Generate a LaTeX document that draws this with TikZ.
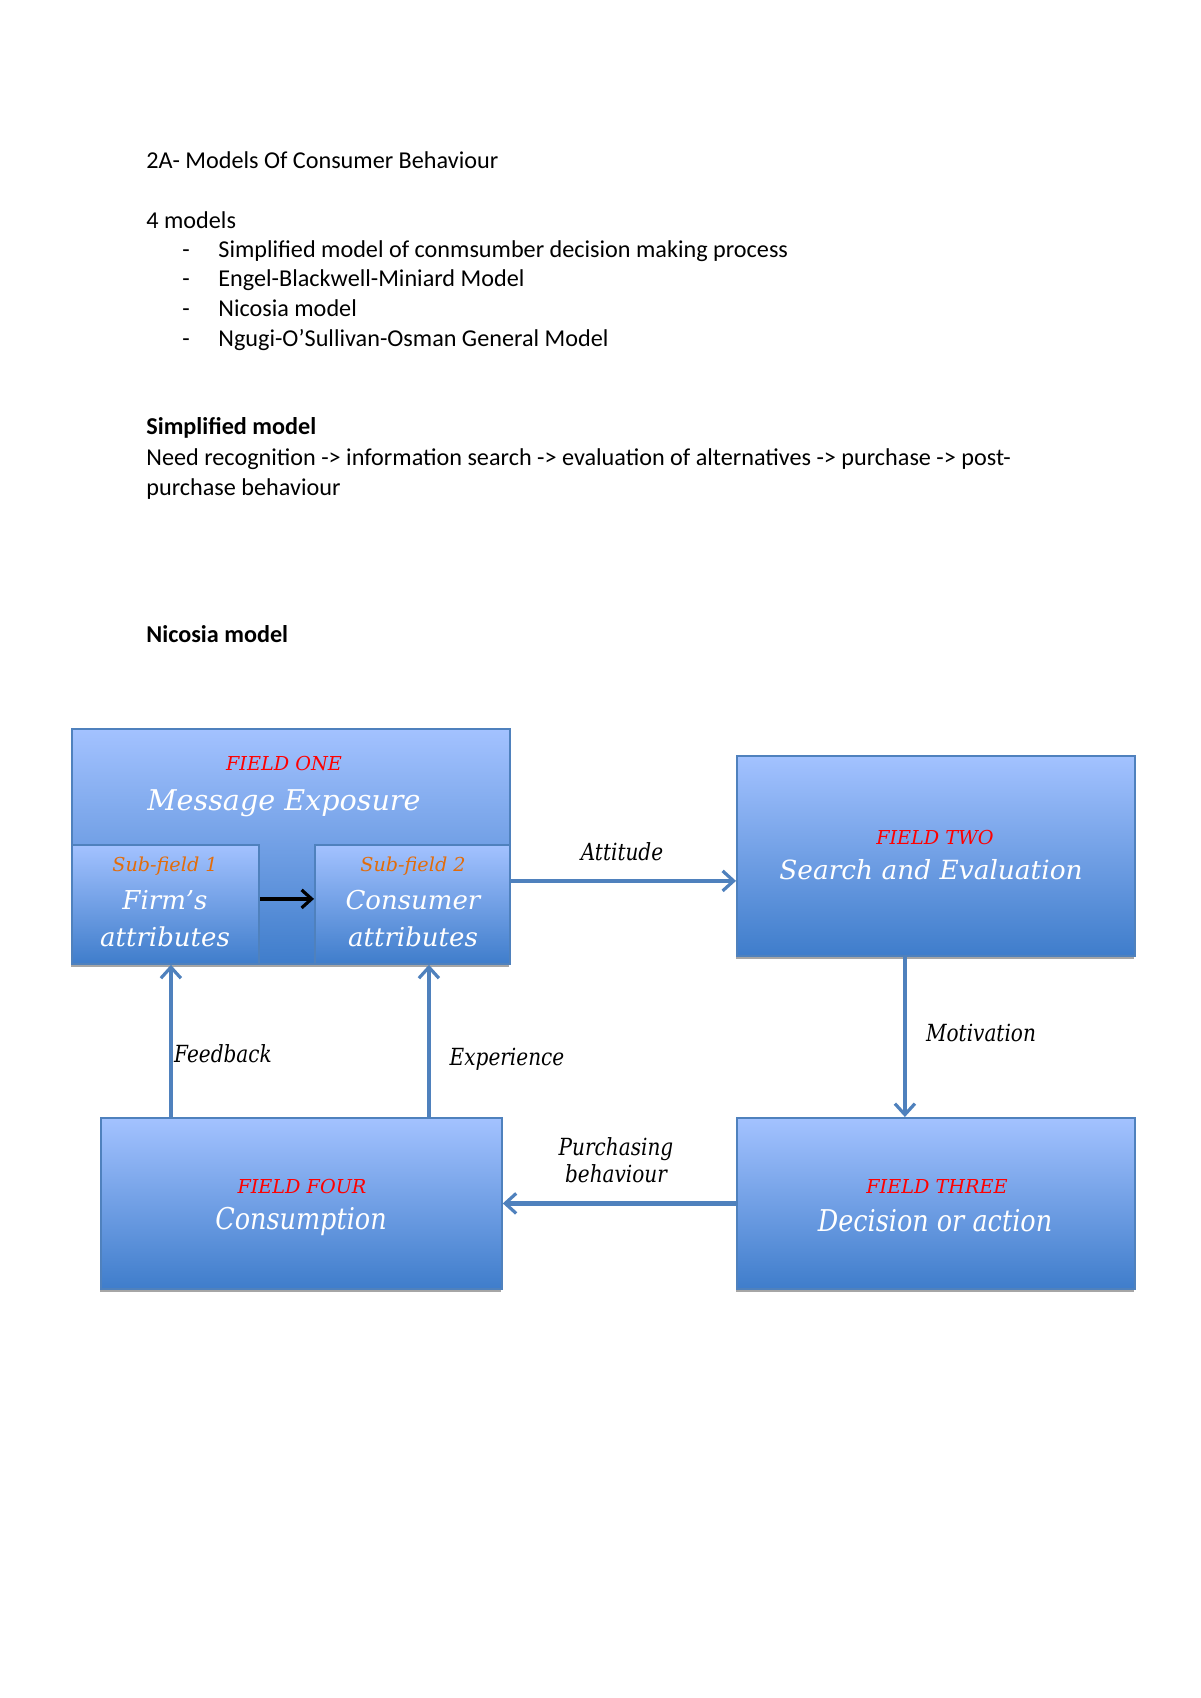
\documentclass[tikz,border=0pt]{standalone}
\usepackage{fontspec}
\setmainfont{Carlito}
\newfontfamily\boxfont{DejaVu Serif}
\newfontfamily\condfont[FakeStretch=0.85]{DejaVu Serif}
\usetikzlibrary{arrows.meta,calc}
\definecolor{boxtop}{HTML}{A3C2FF}
\definecolor{boxbot}{HTML}{3F7DCB}
\definecolor{boxline}{HTML}{4F81BD}
\definecolor{subor}{HTML}{E36C09}
\definecolor{shadowgr}{HTML}{A6A6A6}
\tikzset{
  fieldbox/.style={draw=boxline, line width=0.9pt, top color=boxtop, bottom color=boxbot,
    inner sep=0pt, anchor=north west},
  boxshadow/.style={fill=shadowgr, draw=none},
  bluearrow/.style={draw=boxline, line width=2.2pt, -{Straight Barb[length=5.5pt,width=10pt,line width=1.6pt]}},
  blackarrow/.style={draw=black, line width=2.2pt, -{Straight Barb[length=5pt,width=9pt,line width=1.6pt]}},
  bodytext/.style={anchor=base west, inner sep=0pt, font=\fontsize{12.1pt}{14pt}\selectfont},
  boldtext/.style={bodytext, font=\fontsize{12.1pt}{14pt}\selectfont\bfseries},
  redtitle/.style={text=red, inner sep=0pt, font=\boxfont\itshape\fontsize{9.6pt}{12pt}\selectfont},
  subtitle/.style={text=subor, inner sep=0pt, font=\boxfont\itshape\fontsize{9.6pt}{12pt}\selectfont},
  whitebig/.style={text=white, inner sep=0pt, font=\boxfont\itshape\fontsize{14.3pt}{18pt}\selectfont},
  whitesearch/.style={text=white, inner sep=0pt, font=\boxfont\itshape\fontsize{13.2pt}{16pt}\selectfont},
  whitemid/.style={text=white, inner sep=0pt, font=\boxfont\itshape\fontsize{13pt}{16pt}\selectfont},
  whitecond/.style={text=white, inner sep=0pt, font=\condfont\itshape\fontsize{15pt}{18pt}\selectfont},
  linklabel/.style={text=black, inner sep=0pt, font=\condfont\itshape\fontsize{11.8pt}{13.5pt}\selectfont},
}
\begin{document}
\begin{tikzpicture}[x=0.5pt,y=-0.5pt]
\useasboundingbox[fill=white] (0,0) rectangle (1200,1698);

% ---- page text ----
\node[bodytext] (t1) at (146,168) {2A- Models Of Consumer Behaviour};
\node[bodytext] (t2) at (146,228) {4 models};
\node[bodytext] (d1) at (182,257) {-};
\node[bodytext] (b1) at (218,257) {Simplified model of conmsumber decision making process};
\node[bodytext] (d2) at (182,286) {-};
\node[bodytext] (b2) at (218,286) {Engel-Blackwell-Miniard Model};
\node[bodytext] (d3) at (182,316) {-};
\node[bodytext] (b3) at (218,316) {Nicosia model};
\node[bodytext] (d4) at (182,346) {-};
\node[bodytext] (b4) at (218,346) {Ngugi-O’Sullivan-Osman General Model};
\node[boldtext] (s1) at (146,434) {Simplified model};
\node[bodytext] (s2) at (146,465) {Need recognition -> information search -> evaluation of alternatives -> purchase -> post-};
\node[bodytext] (s3) at (146,495) {purchase behaviour};
\node[boldtext] (n1) at (146,642) {Nicosia model};

% ---- shadows ----
\fill[boxshadow] (71,961) rectangle (509,967);
\fill[boxshadow] (736,953) rectangle (1134,959);
\fill[boxshadow] (736,1286) rectangle (1134,1292);
\fill[boxshadow] (100,1286) rectangle (501,1292);

% ---- boxes ----
\node[fieldbox, minimum width=219pt, minimum height=117.5pt] (one) at (71,728) {};
\node[fieldbox, minimum width=93.5pt, minimum height=59.5pt] (sub1) at (71,844) {};
\node[fieldbox, minimum width=97.5pt, minimum height=59.5pt] (sub2) at (314,844) {};
\node[fieldbox, minimum width=199pt, minimum height=100pt] (two) at (736,755) {};
\node[fieldbox, minimum width=199pt, minimum height=85.5pt] (three) at (736,1117) {};
\node[fieldbox, minimum width=200.5pt, minimum height=85.5pt] (four) at (100,1117) {};

% ---- box texts ----
\node[redtitle] (oneT) at (284,763) {FIELD ONE};
\node[whitebig] (oneN) at (284,803) {Message Exposure};
\node[subtitle] (s1T) at (165,866) {Sub-field 1};
\node[whitemid] (s1a) at (165,900) {Firm’s};
\node[whitemid] (s1b) at (165,937) {attributes};
\node[subtitle] (s2T) at (413,866) {Sub-field 2};
\node[whitemid] (s2a) at (413,900) {Consumer};
\node[whitemid] (s2b) at (413,937) {attributes};
\node[redtitle] (twoT) at (935,837) {FIELD TWO};
\node[whitesearch] (twoN) at (931,870) {Search and Evaluation};
\node[redtitle] (threeT) at (937,1186) {FIELD THREE};
\node[whitecond] (threeN) at (935,1221) {Decision or action};
\node[redtitle] (fourT) at (302,1186) {FIELD FOUR};
\node[whitecond] (fourN) at (301,1221) {Consumption};

% ---- connectors ----
\draw[blackarrow] ([yshift=2.75pt]sub1.east) coordinate (ba) -- (ba -| sub2.west);
\draw[bluearrow] ([yshift=-17.25pt]one.east) coordinate (att) -- (att -| two.west);
\draw[bluearrow] ([xshift=-15.5pt]two.south) coordinate (mot) -- (mot |- three.north);
\draw[bluearrow] (three.west) -- (three.west -| four.east);
\coordinate (fb) at ([xshift=2.75pt]sub1.south);
\draw[bluearrow] (fb |- four.north) -- (fb);
\coordinate (ex) at ([xshift=8.25pt]sub2.south);
\draw[bluearrow] (ex |- four.north) -- (ex);

% ---- connector labels ----
\node[linklabel] (lAtt) at (622,852) {Attitude};
\node[linklabel] (lMot) at (981,1033) {Motivation};
\node[linklabel] (lFb) at (223,1054) {Feedback};
\node[linklabel] (lEx) at (507,1059) {Experience};
\node[linklabel, align=center] (lPur) at (616,1160) {Purchasing\\behaviour};
\end{tikzpicture}
\end{document}
